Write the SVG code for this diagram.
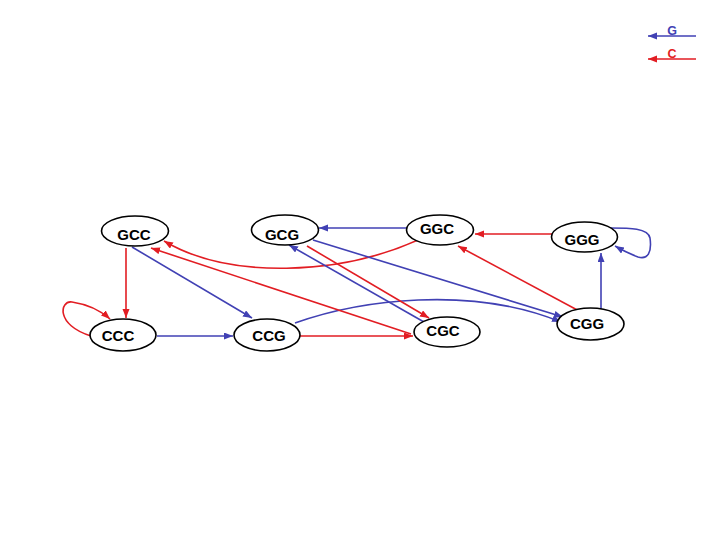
<svg xmlns="http://www.w3.org/2000/svg" width="720" height="540" viewBox="0 0 720 540">
<defs>
<marker id="ab" markerUnits="userSpaceOnUse" markerWidth="10" markerHeight="8" refX="9" refY="3.5" orient="auto"><path d="M0,0 L9,3.5 L0,7 z" fill="#4141b4"/></marker>
<marker id="ar" markerUnits="userSpaceOnUse" markerWidth="10" markerHeight="8" refX="9" refY="3.5" orient="auto"><path d="M0,0 L9,3.5 L0,7 z" fill="#e21d23"/></marker>
<style>
.b{fill:none;stroke:#4141b4;stroke-width:1.6;marker-end:url(#ab)}
.r{fill:none;stroke:#e21d23;stroke-width:1.6;marker-end:url(#ar)}
.n ellipse{fill:#fff;stroke:#000;stroke-width:1.6}
.n text{font-family:"Liberation Sans",Arial,sans-serif;font-weight:bold;font-size:15px;fill:#000;text-anchor:middle}
.lg{font-family:"Liberation Sans",Arial,sans-serif;font-weight:bold;font-size:12.5px;text-anchor:middle}
</style>
</defs>
<rect width="720" height="540" fill="#fff"/>
<g id="legend">
<line x1="696" y1="36" x2="648" y2="36" class="b"/>
<text x="672" y="34.5" class="lg" fill="#4141b4">G</text>
<line x1="696" y1="59" x2="648" y2="59" class="r"/>
<text x="672" y="57.5" class="lg" fill="#e21d23">C</text>
</g>
<g id="connectors">
<line x1="126" y1="248" x2="126" y2="318" class="r"/>
<path d="M91,336 C55,325 60,300 72,302 C85,304 100,310 110,319" class="r"/>
<line x1="132" y1="247" x2="252" y2="318" class="b"/>
<line x1="157" y1="336" x2="233" y2="336" class="b"/>
<line x1="300" y1="336" x2="413" y2="336" class="r"/>
<path d="M295,323 C360,300 470,285 561,322" class="b"/>
<line x1="408" y1="228" x2="319" y2="228" class="b"/>
<path d="M418,240 C340,275 230,280 164,241" class="r"/>
<line x1="411" y1="334" x2="151" y2="248" class="r"/>
<line x1="424" y1="322" x2="289" y2="245" class="b"/>
<line x1="307" y1="246" x2="429" y2="318" class="r"/>
<line x1="313" y1="240" x2="563" y2="317" class="b"/>
<line x1="581" y1="312" x2="458" y2="246" class="r"/>
<line x1="552" y1="234" x2="475" y2="234" class="r"/>
<line x1="601" y1="309" x2="601" y2="253" class="b"/>
<path d="M610,228 C630,228 648,228 650,238 C652,252 648,260 638,257 C630,254 622,250 615,246" class="b"/>
</g>
<g id="GCC" class="n"><ellipse cx="135" cy="231" rx="33.5" ry="15"/><text x="134" y="240">GCC</text></g>
<g id="GCG" class="n"><ellipse cx="285" cy="230" rx="33.5" ry="15"/><text x="282" y="240">GCG</text></g>
<g id="GGC" class="n"><ellipse cx="440" cy="230" rx="33.5" ry="15"/><text x="437" y="234">GGC</text></g>
<g id="GGG" class="n"><ellipse cx="584.5" cy="237" rx="33" ry="15"/><text x="582" y="245">GGG</text></g>
<g id="CCC" class="n"><ellipse cx="123" cy="335" rx="33" ry="16"/><text x="118" y="341">CCC</text></g>
<g id="CCG" class="n"><ellipse cx="267" cy="335" rx="33" ry="16"/><text x="269" y="341">CCG</text></g>
<g id="CGC" class="n"><ellipse cx="447" cy="332" rx="33" ry="15"/><text x="443" y="336">CGC</text></g>
<g id="CGG" class="n"><ellipse cx="590.5" cy="324" rx="33.5" ry="16"/><text x="587" y="329">CGG</text></g>
</svg>
